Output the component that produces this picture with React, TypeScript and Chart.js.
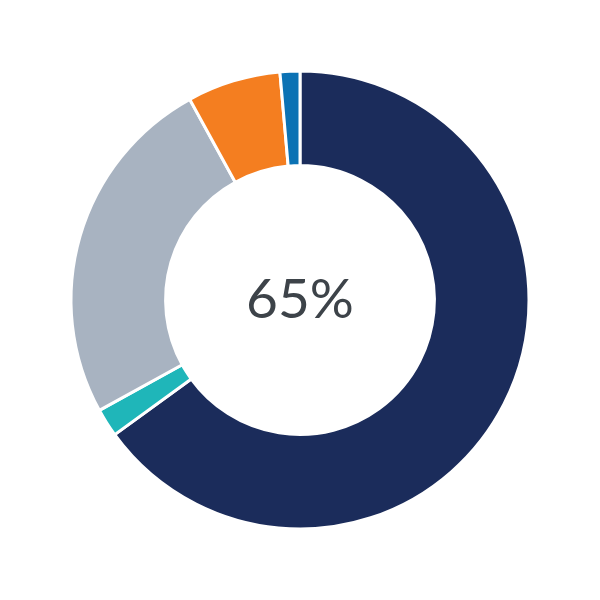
import React, { useEffect, useRef } from "react";
import { Chart, registerables } from "chart.js";

Chart.register(...registerables);

const categories = ["Navy", "Teal", "Gray", "Orange", "Blue"];
const values = [65, 2, 25, 6.6, 1.4];
const colors = ["#1b2c5b", "#1fb6b9", "#a8b3c1", "#f47e20", "#0b72b4"];
const centerLabel = "65%";

export default function App() {
  const ref = useRef<HTMLCanvasElement | null>(null);
  useEffect(() => {
    if (!ref.current) return;
    const chart = new Chart(ref.current, {
      type: "doughnut",
      data: {
        labels: categories,
        datasets: [
          {
            data: values,
            backgroundColor: colors,
            borderColor: "#ffffff",
            borderWidth: 3,
            hoverOffset: 0,
          },
        ],
      },
      options: {
        responsive: false,
        animation: false,
        radius: 229,
        cutout: "58.7%",
        layout: { padding: 0 },
        plugins: {
          legend: { display: false },
          tooltip: { enabled: false },
        },
      },
    });
    return () => chart.destroy();
  }, []);
  return (
    <div style={{ position: "fixed", left: 0, top: 0, width: 600, height: 600, background: "#fff" }}>
      <canvas ref={ref} width={600} height={600} style={{ width: 600, height: 600, display: "block" }} />
      <div
        style={{
          position: "absolute",
          left: 0,
          top: 0,
          width: 600,
          height: 600,
          display: "flex",
          alignItems: "center",
          justifyContent: "center",
          fontFamily: "Lato, 'Noto Sans', sans-serif",
          fontWeight: 400,
          fontSize: 55,
          color: "#3d4349",
          pointerEvents: "none",
        }}
      >
        <span style={{ lineHeight: 1, marginTop: -6 }}>{centerLabel}</span>
      </div>
    </div>
  );
}
